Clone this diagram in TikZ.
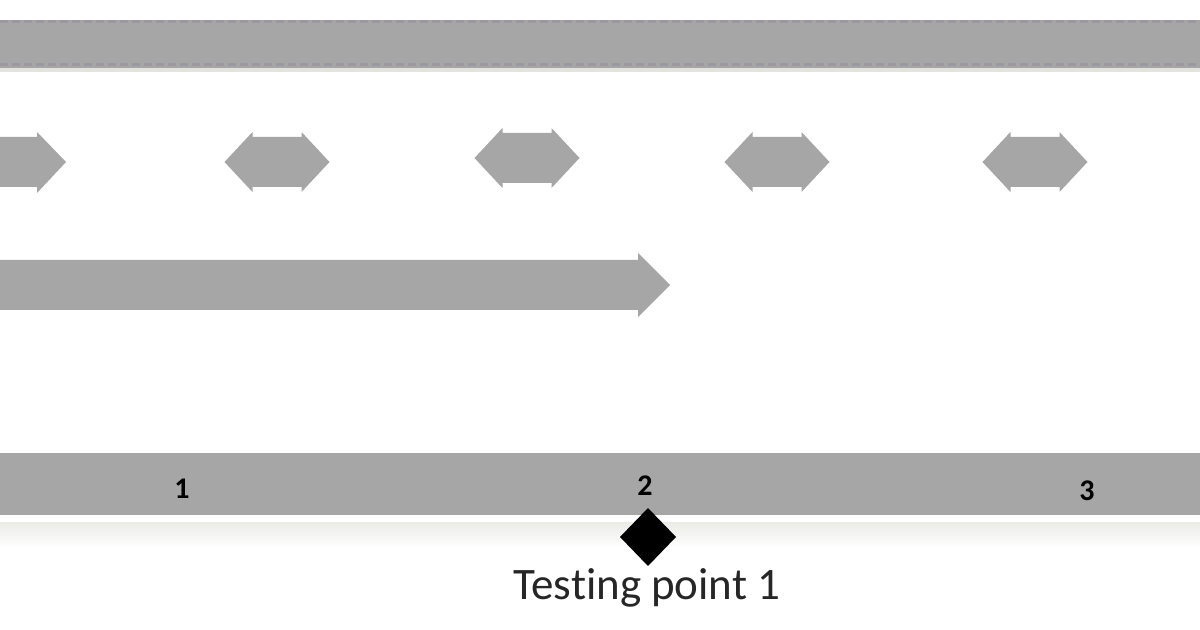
\documentclass[tikz,border=0pt]{standalone}
\usepackage{fontspec}
\setmainfont[Ligatures=NoCommon]{Carlito}
\definecolor{bargray}{HTML}{A6A6A6}
\definecolor{edgegray}{HTML}{9C97A0}
\definecolor{palestripe}{HTML}{E4E4DE}
\definecolor{faintstripe}{HTML}{ECECE7}
\tikzset{
  barfill/.style={fill=bargray, draw=none},
  shapefill/.style={fill=bargray, draw=none},
  numlabel/.style={font=\fontsize{15}{15}\selectfont\bfseries, text=black, inner sep=0pt},
  dblarrow/.pic={
    \path[shapefill] (-52.5,0) -- (-24.5,-30) -- (-24.5,-25) -- (24.5,-25) -- (24.5,-30)
      -- (52.5,0) -- (24.5,30) -- (24.5,25) -- (-24.5,25) -- (-24.5,30) -- cycle;
  }
}
\begin{document}
\begin{tikzpicture}[x=0.5pt,y=-0.5pt]
\useasboundingbox (0,0) rectangle (1200,630);
\fill[white] (0,0) rectangle (1200,630);
% top bar
\fill[palestripe] (0,66) rectangle (1200,72);
\path[barfill] (0,20) rectangle (1200,68);
\draw[edgegray, line width=1.5pt, dash pattern=on 4pt off 2pt] (0,22) -- (1200,22);
\draw[edgegray, line width=1.5pt, dash pattern=on 4pt off 2pt] (0,65) -- (1200,65);
% first (partial) right arrow
\path[shapefill] (0,137) -- (37,137) -- (37,132) -- (66,162) -- (37,193) -- (37,187) -- (0,187) -- cycle;
% double arrows
\pic at (277,162) {dblarrow};
\pic at (527,158) {dblarrow};
\pic at (777,162) {dblarrow};
\pic at (1035,162) {dblarrow};
% long arrow
\path[shapefill] (0,260) -- (638,260) -- (638,253) -- (670,285) -- (638,317) -- (638,310) -- (0,310) -- cycle;
% bottom bar
\shade[top color=faintstripe, bottom color=white] (0,523) rectangle (1200,548);
\path[barfill] (0,453) rectangle (1200,515);
\node[numlabel] (n1) at (182,489) {1};
\node[numlabel] (n2) at (645,486) {2};
\node[numlabel] (n3) at (1087,491) {3};
% testing point
\path[fill=black] (648,508) -- (676,537) -- (648,566) -- (620,537) -- cycle;
\node[font=\fontsize{22.5}{22.5}\selectfont, text={black!85}, inner sep=0pt, anchor=base] (tp) at (647,600) {Testing point 1};
\end{tikzpicture}
\end{document}
